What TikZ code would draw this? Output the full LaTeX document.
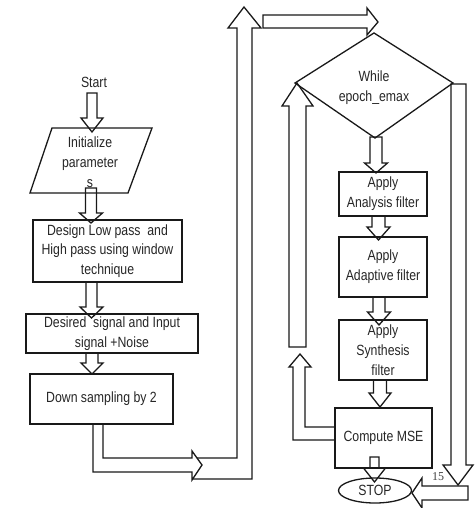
\documentclass[tikz,border=0pt]{standalone}
\usepackage{fontspec}
\setmainfont{Liberation Sans}[FakeStretch=0.83]
\newfontfamily\numfont{Liberation Serif}
\usetikzlibrary{shapes.geometric}
\newcommand{\bdown}[6]{% cx, shaft half, head half, ytop, ybase, ytip
  \draw[ln] ({#1-#2},#4) -- ({#1-#2},#5) -- ({#1-#3},#5) -- (#1,#6) -- ({#1+#3},#5) -- ({#1+#2},#5) -- ({#1+#2},#4) -- cycle;}
\tikzset{
  ln/.style={line width=1.3pt, draw=black!90, line join=miter},
  txt/.style={text=black!85, align=center, inner sep=0pt, font=\fontsize{14.8}{19.8}\selectfont},
  boxnode/.style={ln, txt, rectangle},
}
\begin{document}
\begin{tikzpicture}[x=1pt,y=-1pt]
\useasboundingbox (0,0) rectangle (474,508);
% left column
\node[txt] (start) at (94,82) {Start};
\draw[ln] (52,128) -- (152,128) -- (128,193) -- (30,193) -- cycle;
\node[txt] (init) at (90,162) {Initialize\\parameter\\s};
\node[boxnode, minimum width=149, minimum height=62] (design) at (107.5,251) {Design Low pass\ \ and\\High pass using window\\technique};
\node[boxnode, minimum width=172, minimum height=39] (desired) at (112,333.5) {Desired\ \ signal and Input\\signal +Noise};
\node[boxnode, minimum width=143, minimum height=50] (down) at (101.5,399) {Down sampling by 2};
% small arrows left
\bdown{92}{5}{11}{93}{118}{132}
\bdown{91}{5.5}{11.5}{188}{213}{223}
\bdown{91.5}{5.5}{11.5}{282}{307}{318}
\bdown{92}{6}{11}{353}{363}{374}
% big connector
\draw[ln] (103,424) -- (103,458) -- (192,458) -- (192,451) -- (202,465) -- (192,480) -- (192,472) -- (93,472) -- (93,424);
\draw[ln] (197,458) -- (237,458) -- (237,28) -- (228,28) -- (244,7) -- (261,28) -- (252,28) -- (252,479) -- (193,479);
\draw[ln] (263,15) -- (367,15) -- (367,8) -- (378,22) -- (367,35) -- (367,28) -- (263,28) -- cycle;
% right column
\draw[ln] (374,33) -- (453,83) -- (375,138) -- (295,83) -- cycle;
\node[txt] (while) at (374,87.5) {While\\epoch\_emax};
\node[boxnode, minimum width=88, minimum height=44] (analysis) at (383,194) {Apply\\Analysis filter};
\node[boxnode, minimum width=88, minimum height=60] (adaptive) at (383,267) {Apply\\Adaptive filter};
\node[boxnode, minimum width=88, minimum height=60] (synth) at (383,350) {Apply\\Synthesis\\filter};
\node[boxnode, minimum width=97, minimum height=60] (mse) at (383.5,438) {Compute MSE};
\node[ln, txt, ellipse, minimum width=73, minimum height=25] (stop) at (375,490.5) {STOP};
\bdown{376}{6}{11.5}{137}{163}{173}
\bdown{378.5}{6.5}{11.5}{216}{227}{240}
\bdown{379}{6}{11.5}{297}{312}{325}
\bdown{380}{6.5}{11}{380}{393}{407}
\bdown{374.5}{4.5}{11}{457}{468}{482}
% loops
\draw[ln] (335,427) -- (305,427) -- (305,367) -- (311,367) -- (300,354) -- (289,367) -- (293,367) -- (293,440) -- (335,440);
\draw[ln] (289,347) -- (289,106) -- (282,106) -- (297,83) -- (313,106) -- (306,106) -- (306,347) -- cycle;
\draw[ln] (451,84) -- (451,465) -- (443,465) -- (458,485) -- (473,465) -- (466,465) -- (466,84) -- cycle;
\draw[ln] (468,486) -- (422,486) -- (422,478) -- (412,493) -- (422,508) -- (422,500) -- (468,500) -- cycle;
\node[font=\numfont\fontsize{12}{12}\selectfont, text=black!75, inner sep=0pt] (pg) at (438,477) {15};
\end{tikzpicture}
\end{document}
